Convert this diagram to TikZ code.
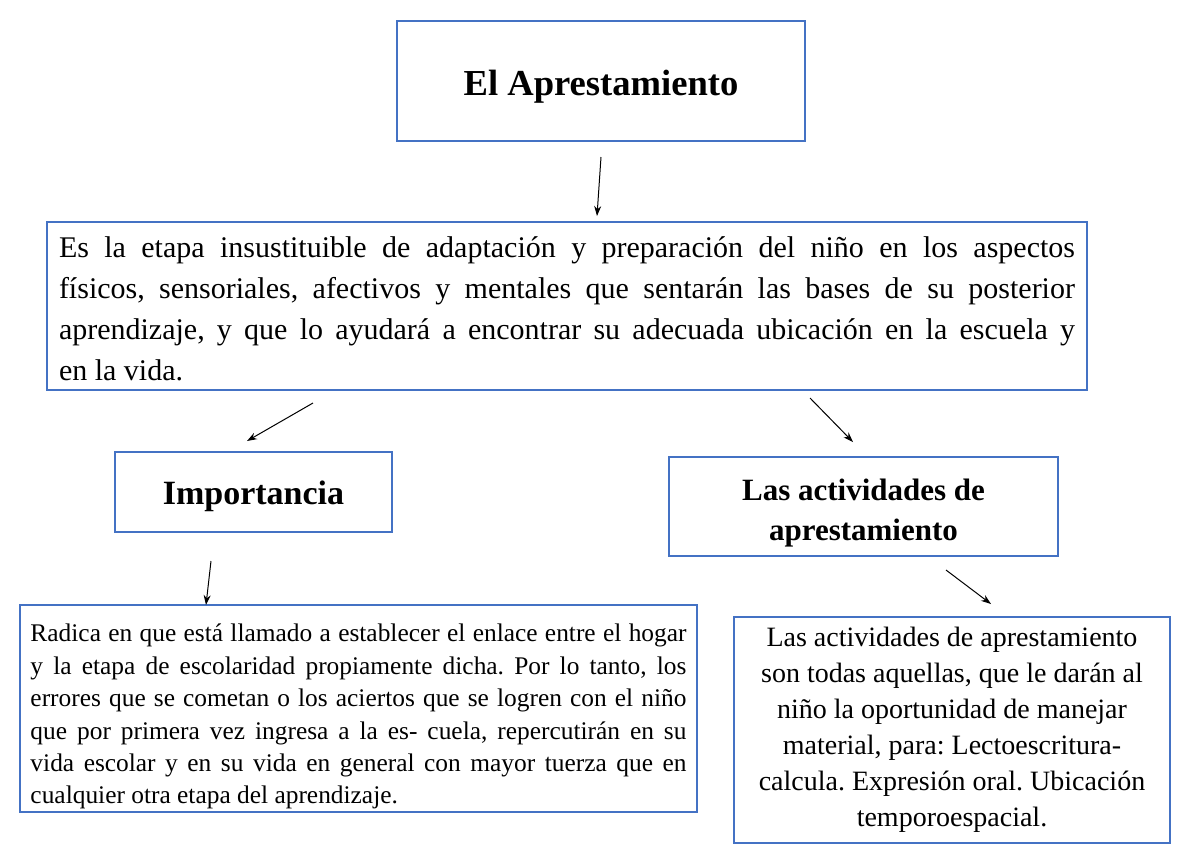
\documentclass[tikz,border=0pt]{standalone}
\usepackage{fontspec}
\setmainfont{Liberation Serif}
\usetikzlibrary{arrows.meta}
\definecolor{boxblue}{RGB}{68,114,196}
\frenchspacing
\tikzset{
  conbox/.style={draw=boxblue,line width=1pt,inner sep=0pt,minimum width=#1},
  flecha/.style={-{Stealth[length=5pt,width=3.5pt]},line width=0.5pt}
}
\begin{document}
\begin{tikzpicture}[x=0.5pt,y=-0.5pt]
\useasboundingbox (0,0) rectangle (1200,848);
% cajas
\node[conbox=204pt,minimum height=60pt,font=\bfseries\fontsize{18.3}{22}\selectfont] (titulo) at (601,81) {\rule{0pt}{18.5pt}El Aprestamiento};
\node[conbox=520pt,minimum height=84pt,text width=508pt,align=justify,font=\fontsize{15}{20.5}\selectfont] (defin) at (567,306)
{\rule{0pt}{13pt}Es la etapa insustituible de adaptación y preparación del niño en los aspectos\linebreak
físicos, sensoriales, afectivos y mentales que sentarán las bases de su posterior\linebreak
aprendizaje, y que lo ayudará a encontrar su adecuada ubicación en la escuela y\linebreak
en la vida.};
\node[conbox=138.5pt,minimum height=40pt,font=\bfseries\fontsize{17}{21}\selectfont] (impor) at (253.5,492) {\rule{0pt}{16.6pt}Importancia};
\node[conbox=194.5pt,minimum height=49.5pt,align=center,font=\bfseries\fontsize{15.5}{20}\selectfont] (activ) at (863.5,506.5) {\rule{0pt}{17.5pt}Las actividades de\\ aprestamiento};
\node[conbox=338.5pt,minimum height=103.5pt,text width=328pt,align=justify,font=\fontsize{12.7}{16.2}\selectfont] (radica) at (358.5,708.5)
{\rule{0pt}{17pt}Radica en que está llamado a establecer el enlace entre el hogar\linebreak
y la etapa de escolaridad propiamente dicha. Por lo tanto, los\linebreak
errores que se cometan o los aciertos que se logren con el niño\linebreak
que por primera vez ingresa a la es- cuela, repercutirán en su\linebreak
vida escolar y en su vida en general con mayor tuerza que en\linebreak
cualquier otra etapa del aprendizaje.};
\node[conbox=218pt,minimum height=113pt,align=center,font=\fontsize{14}{18}\selectfont] (lasact) at (952,730)
{Las actividades de aprestamiento\\ son todas aquellas, que le darán al\\ niño la oportunidad de manejar\\ material, para: Lectoescritura-\\ calcula. Expresión oral. Ubicación\\ temporoespacial.};
% flechas
\coordinate (a1) at (601,157); \coordinate (b1) at (597,216);
\coordinate (a2) at (313,403); \coordinate (b2) at (247,441);
\coordinate (a3) at (810,398); \coordinate (b3) at (853,442);
\coordinate (a4) at (211,561); \coordinate (b4) at (206,605);
\coordinate (a5) at (946,570); \coordinate (b5) at (991,604);
\foreach \i in {1,...,5} \draw[flecha] (a\i) -- (b\i);
\end{tikzpicture}
\end{document}
